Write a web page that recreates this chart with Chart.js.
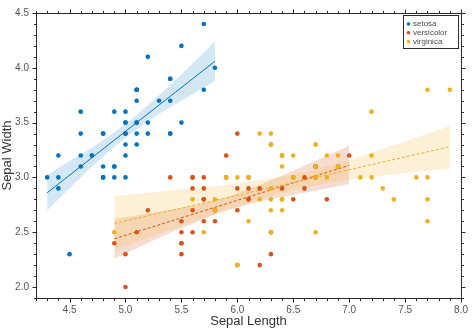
<!DOCTYPE html>
<html>
<head>
<meta charset="utf-8">
<script src="https://cdn.jsdelivr.net/npm/chart.js@4.4.1/dist/chart.umd.min.js"></script>
<style>
  html, body { margin: 0; padding: 0; background: #fff; }
</style>
</head>
<body>
<canvas id="chart" width="474" height="332"></canvas>
<script>
// Iris: sepal length vs sepal width, one fit + confidence band per species

const groups = ['setosa', 'versicolor', 'virginica'];
const colors = ['#0072BD', '#D95319', '#EDB120'];

const setosaX = [5.1,4.9,4.7,4.6,5.0,5.4,4.6,5.0,4.4,4.9,5.4,4.8,4.8,4.3,5.8,5.7,5.4,5.1,5.7,5.1,5.4,5.1,4.6,5.1,4.8,
                 5.0,5.0,5.2,5.2,4.7,4.8,5.4,5.2,5.5,4.9,5.0,5.5,4.9,4.4,5.1,5.0,4.5,4.4,5.0,5.1,4.8,5.1,4.6,5.3,5.0];
const setosaY = [3.5,3.0,3.2,3.1,3.6,3.9,3.4,3.4,2.9,3.1,3.7,3.4,3.0,3.0,4.0,4.4,3.9,3.5,3.8,3.8,3.4,3.7,3.6,3.3,3.4,
                 3.0,3.4,3.5,3.4,3.2,3.1,3.4,4.1,4.2,3.1,3.2,3.5,3.6,3.0,3.4,3.5,2.3,3.2,3.5,3.8,3.0,3.8,3.2,3.7,3.3];

const versicolorX = [7.0,6.4,6.9,5.5,6.5,5.7,6.3,4.9,6.6,5.2,5.0,5.9,6.0,6.1,5.6,6.7,5.6,5.8,6.2,5.6,5.9,6.1,6.3,6.1,6.4,
                     6.6,6.8,6.7,6.0,5.7,5.5,5.5,5.8,6.0,5.4,6.0,6.7,6.3,5.6,5.5,5.5,6.1,5.8,5.0,5.6,5.7,5.7,6.2,5.1,5.7];
const versicolorY = [3.2,3.2,3.1,2.3,2.8,2.8,3.3,2.4,2.9,2.7,2.0,3.0,2.2,2.9,2.9,3.1,3.0,2.7,2.2,2.5,3.2,2.8,2.5,2.8,2.9,
                     3.0,2.8,3.0,2.9,2.6,2.4,2.4,2.7,2.7,3.0,3.4,3.1,2.3,3.0,2.5,2.6,3.0,2.6,2.3,2.7,3.0,2.9,2.9,2.5,2.8];

const virginicaX = [6.3,5.8,7.1,6.3,6.5,7.6,4.9,7.3,6.7,7.2,6.5,6.4,6.8,5.7,5.8,6.4,6.5,7.7,7.7,6.0,6.9,5.6,7.7,6.3,6.7,
                    7.2,6.2,6.1,6.4,7.2,7.4,7.9,6.4,6.3,6.1,7.7,6.3,6.4,6.0,6.9,6.7,6.9,5.8,6.8,6.7,6.7,6.3,6.5,6.2,5.9];
const virginicaY = [3.3,2.7,3.0,2.9,3.0,3.0,2.5,2.9,2.5,3.6,3.2,2.7,3.0,2.5,2.8,3.2,3.0,3.8,2.6,2.2,3.2,2.8,2.8,2.7,3.3,
                    3.2,2.8,3.0,2.8,3.0,2.8,3.8,2.8,2.8,2.6,3.0,3.4,3.1,3.0,3.1,3.1,3.1,2.7,3.2,3.3,3.0,2.5,3.0,3.4,3.0];

// fitted lines (end points) and confidence bands
const setosaFitX = [4.3, 5.8];
const setosaFitY = [2.86, 4.06];
const versicolorFitX = [4.9, 7.0];
const versicolorFitY = [2.44, 3.11];
const virginicaFitX = [4.9, 7.9];
const virginicaFitY = [2.58, 3.28];

const setosaBandX  = [4.3, 4.5, 4.7, 4.9, 5.1, 5.3, 5.5, 5.8];
const setosaBandLo = [2.70, 2.90, 3.10, 3.28, 3.44, 3.58, 3.70, 3.88];
const setosaBandHi = [3.02, 3.15, 3.27, 3.41, 3.57, 3.75, 3.94, 4.24];

const versicolorBandX  = [4.9, 5.3, 5.6, 5.9, 6.2, 6.5, 7.0];
const versicolorBandLo = [2.26, 2.45, 2.58, 2.70, 2.78, 2.84, 2.94];
const versicolorBandHi = [2.62, 2.69, 2.74, 2.82, 2.93, 3.06, 3.29];

const virginicaBandX  = [4.9, 5.4, 5.9, 6.3, 6.6, 7.0, 7.5, 7.9];
const virginicaBandLo = [2.34, 2.52, 2.70, 2.83, 2.91, 2.98, 3.04, 3.08];
const virginicaBandHi = [2.83, 2.88, 2.93, 2.99, 3.05, 3.16, 3.33, 3.47];

const xTickLabels = [4.5, 5.0, 5.5, 6.0, 6.5, 7.0, 7.5, 8.0];
const yTickLabels = [2.0, 2.5, 3.0, 3.5, 4.0, 4.5];

const FONT = '"Liberation Sans", Arial, Helvetica, sans-serif';

const pts = (xs, ys) => xs.map((x, i) => ({x, y: ys[i]}));

function alpha(hex, a){
  const n = parseInt(hex.slice(1), 16);
  return `rgba(${n >> 16},${(n >> 8) & 255},${n & 255},${a})`;
}

function bandSets(xs, lo, hi, col, a, order){
  return [
    {type:'line', data: pts(xs, hi), borderWidth:0, pointRadius:0, fill:'+1', backgroundColor: alpha(col, a), order},
    {type:'line', data: pts(xs, lo), borderWidth:0, pointRadius:0, fill:false, order}
  ];
}
function fitSet(xs, ys, col, dash, order){
  return {type:'line', data: pts(xs, ys), borderColor: col, borderWidth: 1, borderDash: dash, pointRadius: 0, fill:false, order};
}
function pointSet(label, xs, ys, col, order){
  return {label, data: pts(xs, ys), backgroundColor: col, borderWidth: 0, pointRadius: 2.3, order};
}

// frame with outward ticks on all four sides
const frame = {
  id: 'frame',
  afterDatasetsDraw(chart){
    const {ctx, chartArea: a, scales: {x, y}} = chart;
    const L = Math.round(a.left) + 0.5, R = Math.round(a.right) + 0.5;
    const T = Math.round(a.top) + 0.5, B = Math.round(a.bottom) + 0.5;
    ctx.save();
    ctx.strokeStyle = '#2b2b2b';
    ctx.lineWidth = 1;
    ctx.strokeRect(L, T, R - L, B - T);
    ctx.beginPath();
    for (let i = Math.ceil(x.min * 10 - 1e-6); i <= Math.floor(x.max * 10 + 1e-6); i++){
      const px = Math.round(x.getPixelForValue(i / 10)) + 0.5;
      const len = i % 5 === 0 ? 4 : 2.5;
      ctx.moveTo(px, B); ctx.lineTo(px, B + len);
      ctx.moveTo(px, T); ctx.lineTo(px, T - len);
    }
    for (let i = Math.ceil(y.min * 10 - 1e-6); i <= Math.floor(y.max * 10 + 1e-6); i++){
      const py = Math.round(y.getPixelForValue(i / 10)) + 0.5;
      const len = i % 5 === 0 ? 4 : 2.5;
      ctx.moveTo(L, py); ctx.lineTo(L - len, py);
      ctx.moveTo(R, py); ctx.lineTo(R + len, py);
    }
    ctx.stroke();
    ctx.restore();
  }
};

// boxed legend in the top right corner of the plot
const legendBox = {
  id: 'legendBox',
  afterDraw(chart){
    const {ctx, chartArea: a} = chart;
    const w = 55, h = 33;
    const bx = Math.round(a.right) - 58, by = Math.round(a.top) + 2;
    const items = chart.data.datasets.filter(d => d.label);
    ctx.save();
    ctx.fillStyle = '#fff';
    ctx.fillRect(bx, by, w, h);
    ctx.strokeStyle = '#2b2b2b';
    ctx.lineWidth = 1;
    ctx.strokeRect(bx + 0.5, by + 0.5, w, h);
    ctx.font = '8px ' + FONT;
    ctx.textBaseline = 'middle';
    groups.forEach((g, i) => {
      const d = items.find(s => s.label === g);
      const ry = by + 9 + i * 8.8;
      ctx.fillStyle = d.backgroundColor;
      ctx.beginPath(); ctx.arc(bx + 5.5, ry, 1.8, 0, Math.PI * 2); ctx.fill();
      ctx.fillStyle = '#4a4a4a';
      ctx.fillText(g, bx + 10, ry);
    });
    ctx.restore();
  }
};

const datasets = [
  pointSet(groups[2], virginicaX, virginicaY, colors[2], 1),
  pointSet(groups[1], versicolorX, versicolorY, colors[1], 2),
  pointSet(groups[0], setosaX, setosaY, colors[0], 3),
  fitSet(virginicaFitX, virginicaFitY, colors[2], [3, 2], 5),
  fitSet(versicolorFitX, versicolorFitY, colors[1], [3, 2], 6),
  fitSet(setosaFitX, setosaFitY, colors[0], [], 7),
  ...bandSets(virginicaBandX, virginicaBandLo, virginicaBandHi, colors[2], 0.18, 10),
  ...bandSets(versicolorBandX, versicolorBandLo, versicolorBandHi, colors[1], 0.2, 11),
  ...bandSets(setosaBandX, setosaBandLo, setosaBandHi, colors[0], 0.17, 12)
];

new Chart(document.getElementById('chart').getContext('2d'), {
  type: 'scatter',
  data: {datasets},
  plugins: [frame, legendBox],
  options: {
    responsive: false,
    animation: false,
    events: [],
    layout: {padding: {top: 6, right: 8, left: 0, bottom: 0}},
    plugins: {legend: {display: false}, tooltip: {enabled: false}},
    scales: {
      x: {
        type: 'linear', min: 4.2, max: 8.0,
        grid: {display: false, drawTicks: false},
        border: {display: false},
        afterBuildTicks: s => { s.ticks = xTickLabels.map(v => ({value: v})); },
        afterFit: s => { s.height = 34; },
        ticks: {padding: 6, color: '#555', font: {family: FONT, size: 10}, callback: v => v.toFixed(1)},
        title: {display: true, text: 'Sepal Length', color: '#333', font: {family: FONT, size: 13}, padding: {top: 0, bottom: 2.5}}
      },
      y: {
        type: 'linear', min: 1.9, max: 4.5,
        grid: {display: false, drawTicks: false},
        border: {display: false},
        afterBuildTicks: s => { s.ticks = yTickLabels.map(v => ({value: v})); },
        afterFit: s => { s.width = 36; },
        ticks: {padding: 7, color: '#555', font: {family: FONT, size: 10}, callback: v => v.toFixed(1)},
        title: {display: true, text: 'Sepal Width', color: '#333', font: {family: FONT, size: 13}, padding: {top: 0, bottom: 0}}
      }
    }
  }
});
</script>
</body>
</html>
